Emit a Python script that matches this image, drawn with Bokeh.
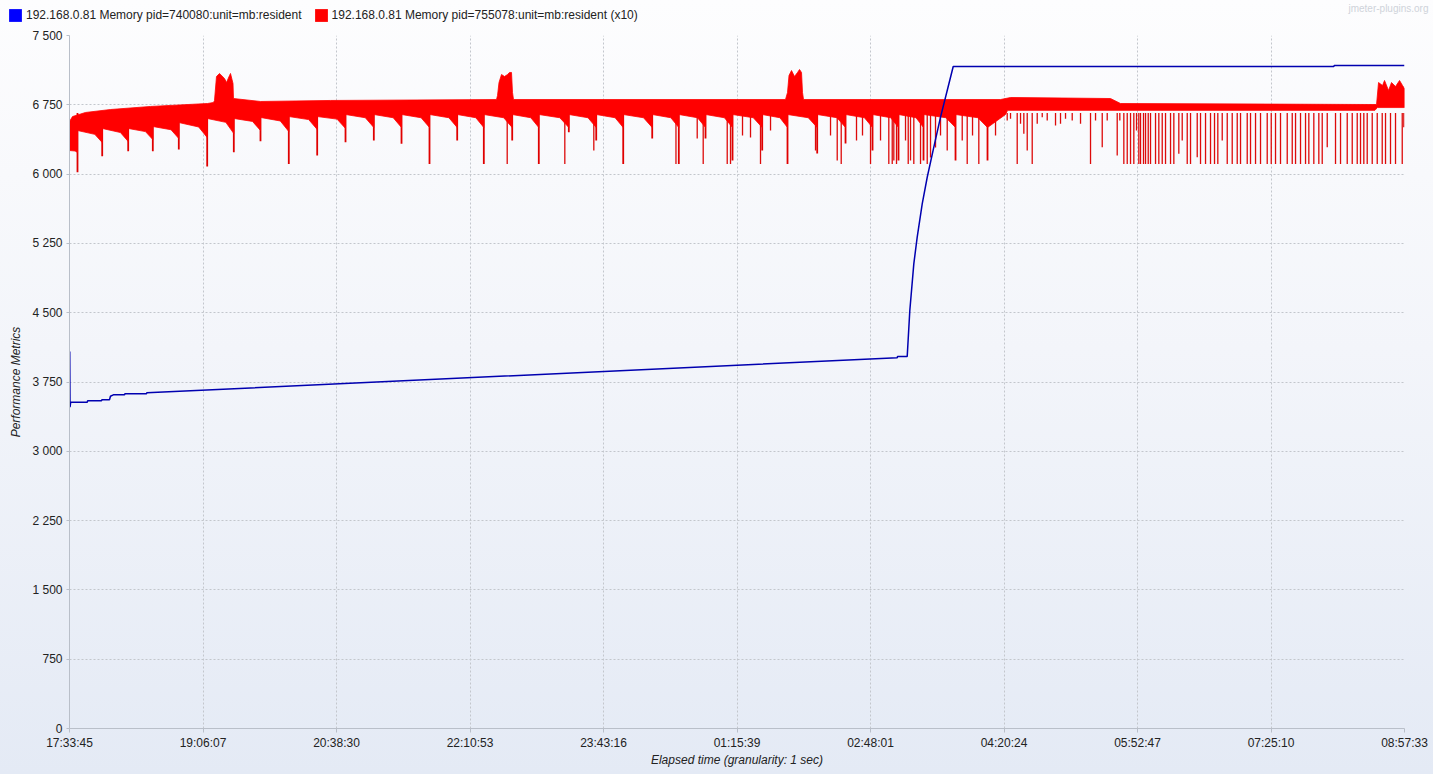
from bokeh.plotting import figure
from bokeh.layouts import column
from bokeh.models import (Range1d, FixedTicker, CustomJSTickFormatter, Legend, LegendItem,
                          Label, GlobalInlineStyleSheet)
from bokeh.embed import file_html
from bokeh.resources import INLINE

# ---------------- data (x in seconds elapsed since 17:33:45) ----------------
X_END = 55428
x_labels = ["17:33:45", "19:06:07", "20:38:30", "22:10:53", "23:43:16", "01:15:39",
            "02:48:01", "04:20:24", "05:52:47", "07:25:10", "08:57:33"]
y_ticks = [0, 750, 1500, 2250, 3000, 3750, 4500, 5250, 6000, 6750, 7500]

series_blue = "192.168.0.81 Memory pid=740080:unit=mb:resident"
series_red = "192.168.0.81 Memory pid=755078:unit=mb:resident (x10)"
watermark = "jmeter-plugins.org"

# blue series (pid 740080)
blue_t = [10, 22, 50, 740, 750, 1330, 1340, 1660, 1700, 1820, 2280, 2300, 3190, 3210,
          34366, 34380, 34781, 34889, 35055, 35196, 35404, 35612, 35886, 36164, 36442,
          36691, 52494, 52510, 55428]
blue_v = [4080, 3477, 3531, 3531, 3547, 3547, 3557, 3557, 3596, 3611, 3611, 3622, 3622, 3633,
          4012, 4026, 4026, 4524, 5029, 5318, 5678, 5966, 6291, 6616, 6905,
          7165, 7165, 7176, 7176]

# red series (pid 755078, x10): upper envelope of the dense band
red_top_t = [0, 125, 664, 1702, 3363, 5730,
             5979, 6020, 6103, 6228, 6436, 6519, 6643, 6685, 6789, 6809,
             7930, 10837,
             17729, 17771, 17833, 17937, 18061, 18186, 18269, 18352, 18393, 18435,
             29728, 29811, 29873, 29977, 30102, 30227, 30310, 30393, 30434, 30476,
             38655, 39070, 43222, 43638, 54267,
             54350, 54516, 54599, 54765, 54889, 55056, 55222, 55346, 55428]
red_top_v = [6569, 6623, 6667, 6699, 6732, 6764,
             6775, 6797, 7056, 7089, 7035, 6991, 7067, 7089, 6981, 6818,
             6786, 6797,
             6807, 6851, 6991, 7078, 7056, 7078, 7100, 7100, 6883, 6807,
             6807, 6883, 7067, 7121, 7056, 7100, 7132, 7100, 6883, 6807,
             6807, 6829, 6818, 6764, 6753,
             6991, 6959, 7013, 6905, 6991, 6948, 7013, 6959, 6926]

# periodic cycles of the dense part: dip time, dip depth, band bottom after the
# previous dip, band bottom part-way, band bottom just before the dip
cyc_dip_t = [332, 1358, 2437, 3459, 4538, 5717, 6822, 7930, 9105, 10284, 11460, 12635,
             13785, 14947, 16097, 17202, 18381, 19485, 20731, 21869, 22990, 24194, 25298,
             26407, 27528, 28761, 29811, 31044, 32220, 33341, 34420, 35458, 36787, 38115]
cyc_dip_v = [6021, 6194, 6248, 6248, 6266, 6082, 6237, 6356, 6110, 6201, 6345, 6364,
             6328, 6110, 6364, 6110, 6364, 6110, 6453, 6364, 6110, 6385, 6110,
             6385, 6147, 6255, 6110, 6223, 6331, 6255, 6147, 6147, 6147, 6147]
cyc_base_v = [6255, 6472, 6494, 6494, 6515, 6558, 6602, 6602, 6613, 6623, 6623] + [6645] * 23
cyc_mid_v = [6250, 6430, 6450, 6460, 6480, 6510, 6560, 6570, 6575, 6590, 6595] + [6610] * 23
cyc_pre_v = [6234, 6342, 6353, 6374, 6385, 6396, 6439, 6472, 6461, 6483, 6494] + [6504] * 23

# band bottom after the dense part
red_low_end_t = [38863, 38950, 54200, 54300, 55428]
red_low_end_v = [6645, 6690, 6690, 6720, 6720]

# isolated downward spikes of the red series
spike_t = [18173, 20565, 21769, 25180, 26062, 26311, 27308, 27445, 27943, 28275, 28690,
           29106, 30974, 31597, 31875, 32041, 32676, 32925, 33258, 33673, 34017, 34159,
           34225, 34337, 34711, 34823, 34918, 35055, 35334, 35612, 35749, 35956, 36164,
           36442, 37065, 37272, 37493, 37754, 38448,
           38933, 39070, 39348, 39486, 39623, 39764, 39971, 40179, 40387, 40594, 40939,
           41146, 41354, 41632, 41977, 42392, 42600, 42878, 43085, 43500, 43608, 43775,
           43916, 44053, 44190, 44302, 44397, 44468, 44592, 44676, 44788, 44883, 45091,
           45228, 45369, 45506, 45714, 45851, 46058, 46199, 46407, 46544, 46822, 46959,
           47167, 47374, 47540, 47677, 47860, 48068, 48275, 48483, 48620, 48898, 49035,
           49243, 49450, 49728, 49895, 50073, 50280, 50559, 50767, 50904, 51111, 51319,
           51456, 51663, 51871, 52012, 52220, 52564, 52772, 53050, 53258, 53465, 53602,
           53739, 53880, 54088, 54296, 54503, 54640, 54847, 55055, 55334, 55400]
spike_v = [6110, 6110, 6255, 6110, 6385, 6110, 6110, 6110, 6418, 6396, 6110,
           6472, 6255, 6418, 6147, 6110, 6364, 6418, 6110, 6364, 6110, 6110,
           6147, 6110, 6364, 6110, 6147, 6110, 6110, 6110, 6180, 6288, 6418,
           6255, 6364, 6110, 6418, 6110, 6418,
           6580, 6598, 6110, 6544, 6436, 6255, 6110, 6544, 6616, 6580, 6526,
           6544, 6598, 6580, 6544, 6110, 6580, 6291, 6580, 6201, 6580, 6110,
           6110, 6110, 6110, 6472, 6110, 6110, 6110, 6110, 6110, 6110, 6110,
           6110, 6110, 6110, 6110, 6110, 6220, 6364, 6110, 6110, 6183, 6110,
           6110, 6110, 6110, 6110, 6364, 6110, 6110, 6110, 6110, 6110, 6110,
           6110, 6110, 6110, 6110, 6110, 6110, 6110, 6110, 6110, 6110, 6110,
           6110, 6110, 6110, 6110, 6291, 6110, 6110, 6110, 6110, 6110, 6110,
           6110, 6110, 6110, 6110, 6110, 6110, 6110, 6110, 6110, 6507]

# ---------------- build the red band outline from the arrays ----------------
TAIL_AT = 0.7
low_t, low_v = [], []
prev = 0
for d, b, m, pr in zip(cyc_dip_t, cyc_base_v, cyc_mid_v, cyc_pre_v):
    low_t += [prev, prev + TAIL_AT * (d - prev), d]
    low_v += [b, m, pr]
    prev = d
low_t += red_low_end_t
low_v += red_low_end_v
band_x = list(red_top_t) + low_t[::-1]
band_y = list(red_top_v) + low_v[::-1]

# ---------------- styling constants ----------------
FONT = "Liberation Sans"
TXT = "#222222"
AX = "#b9bfc9"
BLUE_SW = "#0000ff"
RED = "#ff0000"

# ---------------- header strip: legend + watermark ----------------
head = figure(width=1433, height=27, output_backend="svg", toolbar_location=None,
              x_range=Range1d(0, 1), y_range=Range1d(0, 1),
              x_axis_location=None, y_axis_location=None,
              min_border=0, min_border_left=0, min_border_right=0,
              min_border_top=0, min_border_bottom=0)
head.frame_align = False
head.background_fill_color = None
head.border_fill_color = None
head.outline_line_color = None
head.xgrid.visible = False
head.ygrid.visible = False
head.stylesheets = [GlobalInlineStyleSheet(css=
    "html{min-height:100%;background:linear-gradient(to bottom,#fdfdfe 0%,#f3f5fa 45%,#e4eaf5 100%);}")]

# swatch renderers for the legend (their geometry lies outside the visible range)
lb = head.patch(x=[5, 6, 6], y=[5, 5, 6], fill_color=BLUE_SW, line_alpha=0)
lr = head.patch(x=[5, 6, 6], y=[5, 5, 6], fill_color=RED, line_alpha=0)
legend = Legend(items=[LegendItem(label=series_blue, renderers=[lb]),
                       LegendItem(label=series_red, renderers=[lr])],
                location=(7, 4), orientation="horizontal",
                glyph_width=16, glyph_height=16, label_height=16, label_standoff=3,
                spacing=11, padding=0, margin=0, border_line_alpha=0,
                background_fill_alpha=0, label_text_font=FONT,
                label_text_font_size="12px", label_text_color=TXT)
head.add_layout(legend)
head.add_layout(Label(x=1428, y=25, x_units="screen", y_units="screen",
                      text=watermark, text_align="right", text_baseline="top",
                      text_font=FONT, text_font_size="10px", text_color="#cfd3da"))

# ---------------- main chart ----------------
p = figure(width=1433, height=747, output_backend="svg", toolbar_location=None,
           x_range=Range1d(0, X_END), y_range=Range1d(0, 7500),
           min_border_left=69, min_border_right=29, min_border_top=8, min_border_bottom=46)
p.frame_align = False
p.background_fill_color = None
p.border_fill_color = None
p.outline_line_color = None

p.xaxis.ticker = FixedTicker(ticks=[X_END * i / 10 for i in range(11)])
p.xaxis.formatter = CustomJSTickFormatter(args=dict(labels=x_labels, span=X_END),
                                          code="return labels[Math.round(tick * 10 / span)];")
p.yaxis.ticker = FixedTicker(ticks=y_ticks)
p.yaxis.formatter = CustomJSTickFormatter(
    code="return tick.toFixed(0).replace(/\\B(?=(\\d{3})+(?!\\d))/g, ' ');")

for ax in (p.xaxis[0], p.yaxis[0]):
    ax.axis_line_color = AX
    ax.major_tick_line_color = AX
    ax.minor_tick_line_color = None
    ax.major_tick_in = 0
    ax.major_label_text_font = FONT
    ax.major_label_text_font_size = "12px"
    ax.major_label_text_color = TXT
    ax.axis_label_text_font = FONT
    ax.axis_label_text_font_size = "12px"
    ax.axis_label_text_font_style = "italic"
    ax.axis_label_text_color = TXT
p.xaxis.major_tick_out = 4
p.yaxis.major_tick_out = 3
p.xaxis.major_label_standoff = 3
p.yaxis.major_label_standoff = 4
p.xaxis.axis_label = "Elapsed time (granularity: 1 sec)"
p.yaxis.axis_label = "Performance Metrics"
p.xaxis.axis_label_standoff = 0
p.yaxis.axis_label_standoff = 6

for g in (p.xgrid[0], p.ygrid[0]):
    g.grid_line_color = "#c3c6cc"
    g.grid_line_dash = "2 2"
    g.grid_line_width = 1

# red series
p.segment(x0=cyc_dip_t, y0=[6660] * len(cyc_dip_t), x1=cyc_dip_t, y1=cyc_dip_v,
          line_color="#e00000", line_width=1.8)
p.segment(x0=spike_t, y0=[6660] * len(spike_t), x1=spike_t, y1=spike_v,
          line_color="#dd0a0a", line_width=1.3)
p.patch(band_x, band_y, fill_color=RED, line_color=RED, line_width=0.8)

# blue series
p.line(blue_t, blue_v, line_color="#0000b0", line_width=1.5)

page = column(head, p, spacing=0)
open("out.html", "w").write(file_html(page, INLINE))
